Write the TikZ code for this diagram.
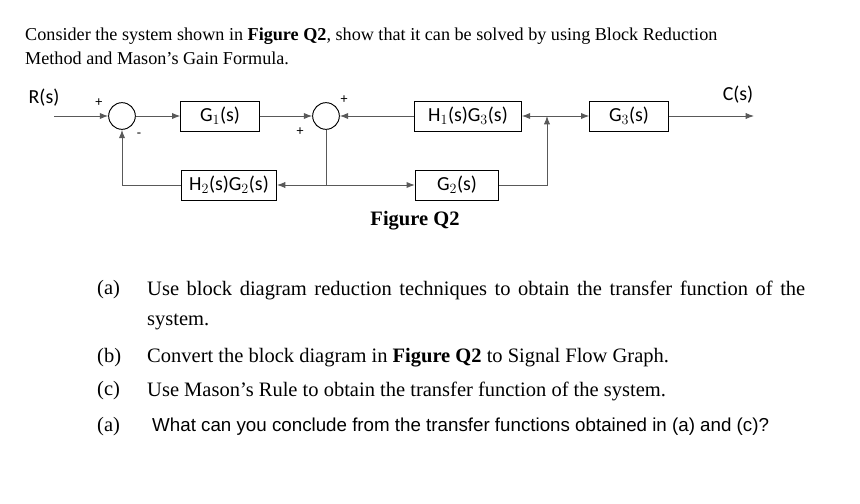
\documentclass[tikz,border=0pt]{standalone}
\usepackage{fontspec}
\setmainfont{Liberation Serif}
\newfontfamily\diag{Carlito}
\newfontfamily\arialf{Liberation Sans}
\usetikzlibrary{arrows.meta,positioning}
\tikzset{
  blk/.style={draw, thick, minimum height=0.9cm, inner sep=2pt, font=\diag\fontsize{17}{19}\selectfont},
  sumj/.style={draw, thick, circle, minimum size=0.8cm, inner sep=0},
  sig/.style={thick, gray!70!black, -{Latex[length=2.5mm]}},
  lbl/.style={font=\diag\fontsize{17}{19}\selectfont},
  txt/.style={anchor=west, inner sep=0, font=\fontsize{17.5}{21}\selectfont}
}
\begin{document}
\begin{tikzpicture}[x=0.03cm, y=-0.03cm]
    \useasboundingbox (0,0) rectangle (860,504);

    % question text
    \node[anchor=north west, inner sep=0, align=left, font=\fontsize{15.5}{20}\selectfont] (head) at (25,28)
      {Consider the system shown in \textbf{Figure Q2}, show that it can be solved by using Block Reduction\\
       Method and Mason's Gain Formula.};

    % block diagram
    \coordinate (in) at (54,116);
    \node[sumj] (s1) at (122,116) {};
    \node[blk, minimum width=2.35cm] (g1) at (220,116) {G$_1$(s)};
    \node[sumj] (s2) at (326,116) {};
    \node[blk, minimum width=3.2cm] (h1) at (468,116) {H$_1$(s)G$_3$(s)};
    \coordinate (j1) at (547,116);
    \node[blk, minimum width=2.35cm] (g3) at (629,116) {G$_3$(s)};
    \coordinate (out) at (754,116);
    \coordinate (j2) at (326,185);
    \node[blk, minimum width=2.85cm] (h2) at (229,185) {H$_2$(s)G$_2$(s)};
    \node[blk, minimum width=2.5cm] (g2) at (457,185) {G$_2$(s)};

    \draw[sig] (in) -- (s1);
    \draw[sig] (s1) -- (g1);
    \draw[sig] (g1) -- (s2);
    \draw[sig] (h1) -- (s2);
    \draw[sig] (j1) -- (h1);
    \draw[sig] (j1) -- (g3);
    \draw[sig] (g3) -- (out);
    \draw[thick, gray!70!black] (s2) -- (j2);
    \draw[sig] (j2) -- (h2);
    \draw[sig] (j2) -- (g2);
    \draw[sig] (g2.east) -| (j1);
    \draw[sig] (h2.west) -| (s1.south);

    \node[lbl] (rs) at (44,98) {R(s)};
    \node[lbl] (cs) at (738,95) {C(s)};
    \node[font=\diag\large] (p1) at (99,103) {+};
    \node[font=\diag\large] (m1) at (139,135) {-};
    \node[font=\diag\large] (p2) at (344,100) {+};
    \node[font=\diag\large] (p3) at (300,132) {+};

    \node[font=\bfseries\fontsize{17.5}{21}\selectfont] (cap) at (415,221) {Figure Q2};

    % questions
    \node[txt] (la) at (97,290) {(a)};
    \node[txt] (qa) at (147,290)
      {\makebox[19.74cm][s]{Use block diagram reduction techniques to obtain the transfer function of the}};
    \node[txt] (qa2) at (147,322) {system.};
    \node[txt] (lb) at (97,358) {(b)};
    \node[txt] (qb) at (147,358) {Convert the block diagram in \textbf{Figure Q2} to Signal Flow Graph.};
    \node[txt] (lc) at (97,391) {(c)};
    \node[txt] (qc) at (147,391) {Use Mason's Rule to obtain the transfer function of the system.};
    \node[txt] (ld) at (97,427) {(a)};
    \node[txt, font=\arialf\fontsize{16}{19}\selectfont] (qd) at (152,427) {What can you conclude from the transfer functions obtained in (a) and (c)?};
\end{tikzpicture}
\end{document}
